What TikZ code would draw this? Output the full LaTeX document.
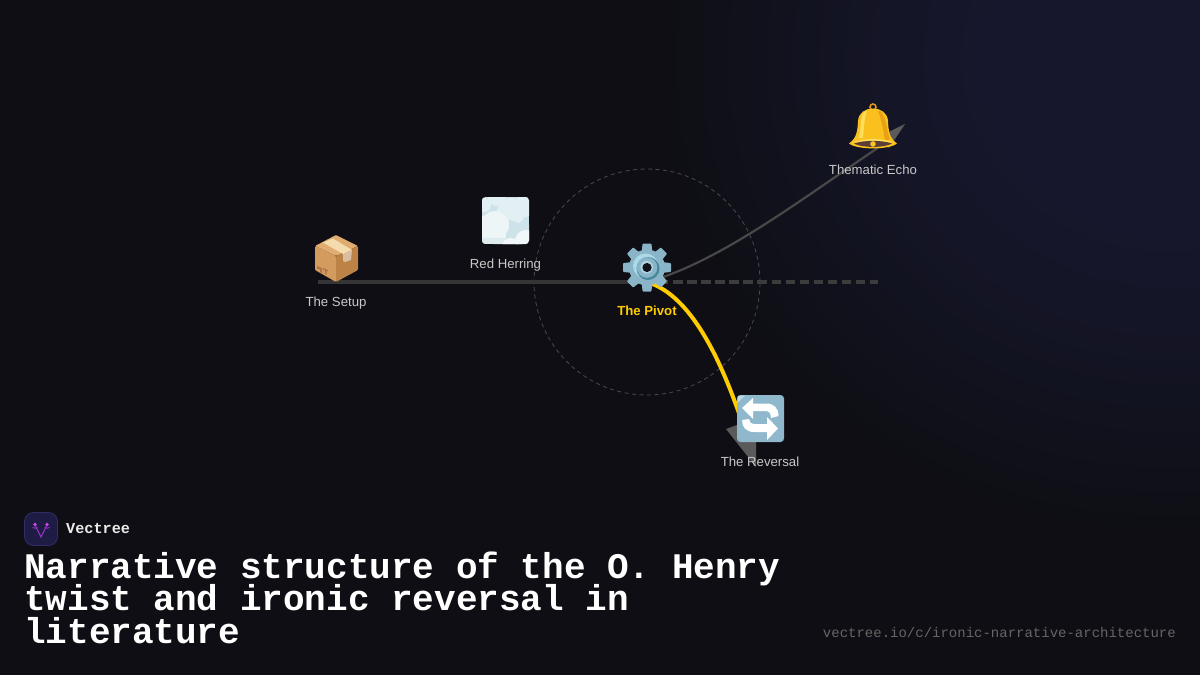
\documentclass[tikz,border=0pt]{standalone}
\usepackage{fontspec}
\setmainfont{Liberation Sans}
\setmonofont{Liberation Mono}
\usetikzlibrary{calc}
\definecolor{bgbase}{HTML}{0E0E14}
\definecolor{bgglow}{HTML}{16172C}
\definecolor{linegrey}{HTML}{3C3C3C}
\definecolor{curvegrey}{HTML}{484848}
\definecolor{headgrey}{HTML}{5A5A5A}
\definecolor{pivotgold}{HTML}{FFCC00}
\definecolor{labelgrey}{HTML}{C8C8C8}
\definecolor{ringgrey}{HTML}{4A4A4E}
\definecolor{urlgrey}{HTML}{666666}
\definecolor{gearbody}{HTML}{8AB5C8}
\tikzset{
  nodelabel/.style={font=\fontsize{13.2}{16}\selectfont, text=labelgrey, inner sep=0pt, anchor=center},
  pivotlabel/.style={font=\fontsize{13.2}{16}\selectfont\bfseries, text=pivotgold, inner sep=0pt, anchor=center},
  spine/.style={draw=linegrey, line width=3.6pt},
  spinedash/.style={spine, dash pattern=on 9.5pt off 4.57pt, dash phase=10.3pt},
  echoline/.style={draw=curvegrey, line width=2.2pt},
  twistline/.style={draw=pivotgold, line width=4pt},
  ring/.style={draw=ringgrey, line width=.8pt, dash pattern=on 4pt off 3.5pt},
  arrowfill/.style={fill=headgrey, draw=none},
  titletext/.style={font=\fontsize{36}{32.4}\selectfont\ttfamily\bfseries, text=white, inner sep=0pt, anchor=base west},
}
\begin{document}
\begin{tikzpicture}[x=1pt,y=-1pt]
\useasboundingbox (0,0) rectangle (1200,675);
\fill[bgbase] (0,0) rectangle (1200,675);
\begin{scope}
\clip (0,0) rectangle (1200,675);
\foreach \i in {40,39,...,1} {
  \pgfmathsetmacro\mixv{min(100,125*(1-(\i/40)^1.6))}
  \fill[bgglow!\mixv!bgbase] (1170,60) ellipse ({\i*13} and {\i*12});
}
\end{scope}
% anchors
\coordinate (start) at (317.5,282);
\coordinate (dashend) at (878,282);
\coordinate (pivotc) at (647,282);
\coordinate (echotip) at (905,124);
\coordinate (revtip) at (756,467);
% ring
\node[ring, circle, minimum size=226pt, inner sep=0pt] (pivotring) at (pivotc) {};
% connectors
\draw[spinedash] (start) -- (dashend);
\draw[draw=linegrey!88!black, line width=3.2pt] (start) -- (pivotc);
\draw[echoline] (pivotc) .. controls (720,262) and (800,200) .. (885,143);
\draw[twistline] (650,283) .. controls (690,297) and (720,355) .. (744,428);
\fill[arrowfill] (echotip) -- (878,137) -- (889,148) -- cycle;
\fill[arrowfill] (revtip) -- (726,429) -- (756,418) -- cycle;
% the setup: box
\begin{scope}[shift={(336,259)}]
\fill[rounded corners=1pt,fill={rgb,255:red,224;green,172;blue,112}] (0,-24) -- (22,-13) -- (0,-3) -- (-21,-13) -- cycle;
\fill[rounded corners=1pt,fill={rgb,255:red,212;green,155;blue,95}] (-21,-13) -- (0,-3) -- (0,23) -- (-21,11) -- cycle;
\fill[rounded corners=1pt,fill={rgb,255:red,188;green,130;blue,70}] (22,-13) -- (0,-3) -- (0,23) -- (22,11) -- cycle;
\fill[fill={rgb,255:red,245;green,220;blue,175}] (-13,-16.5) -- (-3,-20.5) -- (16,-9) -- (7,-5) -- cycle;
\fill[fill={rgb,255:red,218;green,190;blue,160}] (7,-5) -- (16,-9) -- (15,1) -- (9,3) -- (7,2) -- cycle;
\fill[fill={rgb,255:red,170;green,120;blue,72}] (-19,7) -- (-14,9) -- (-14,14) -- (-16,13) -- (-16,10.5) -- (-19,9.5) -- cycle;
\fill[fill={rgb,255:red,170;green,120;blue,72}] (-13,9) -- (-8,11) -- (-8,12.5) -- (-9.5,12) -- (-9.5,15.5) -- (-11,15) -- (-11,11.5) -- (-13,10.7) -- cycle;
\end{scope}
\node[nodelabel] (setup) at (336,303) {The Setup};
% red herring: clouds
\begin{scope}
\clip[rounded corners=3.5pt] (482,197) rectangle (529,244);
\fill[fill={rgb,255:red,206;green,227;blue,233}] (482,197) rectangle (529,244);
\fill[fill={rgb,255:red,226;green,239;blue,243}] (511,212) circle (14);
\fill[fill={rgb,255:red,226;green,239;blue,243}] (525,206) circle (11);
\fill[fill={rgb,255:red,226;green,239;blue,243}] (497,197) circle (9);
\fill[fill={rgb,255:red,226;green,239;blue,243}] (484,205) circle (7);
\fill[fill={rgb,255:red,206;green,227;blue,233}] (508,236) circle (16);
\fill[fill={rgb,255:red,206;green,227;blue,233}] (524,232) circle (10);
\fill[fill={rgb,255:red,238;green,245;blue,247}] (495,225) circle (14);
\fill[fill={rgb,255:red,238;green,245;blue,247}] (480,228) circle (13);
\fill[fill={rgb,255:red,238;green,245;blue,247}] (482,232) rectangle (506,238);
\fill[fill={rgb,255:red,222;green,236;blue,240}] (482,238) rectangle (506,244);
\fill[fill={rgb,255:red,242;green,248;blue,249}] (526,241) circle (11);
\fill[fill={rgb,255:red,242;green,248;blue,249}] (511,247) circle (9);
\end{scope}
\node[nodelabel] (herring) at (505.5,264.7) {Red Herring};
% the pivot: gear
\begin{scope}[shift={(647,267.5)}]
\foreach \a in {0,45,...,315} {
  \fill[rotate=\a, fill=gearbody, rounded corners=.8pt] (-4.4,-24) -- (4.4,-24) -- (5.8,-12) -- (-5.8,-12) -- cycle;
}
\fill[fill=gearbody] (0,0) circle (18);
\fill[fill={rgb,255:red,170;green,218;blue,232}] (-1.5,-1.5) circle (12.5);
\fill[fill={rgb,255:red,72;green,135;blue,155}] (1,1) circle (11.5);
\fill[fill=gearbody] (0,0) circle (10.3);
\fill[fill={rgb,255:red,176;green,212;blue,224}] (-.3,-.3) circle (6.3);
\fill[fill={rgb,255:red,16;green,20;blue,26}] (0,0) circle (4.6);
\end{scope}
\node[pivotlabel] (pivot) at (647,311) {The Pivot};
% the reversal
\fill[rounded corners=3.5pt, fill={rgb,255:red,143;green,184;blue,204}] (737,395) rectangle (784,442);
\fill[fill={rgb,255:red,185;green,216;blue,230}] (737.5,403) -- (737.5,398) arc[start angle=180,end angle=270,radius=2.5] -- (745,395.5) -- cycle;
\fill[white] (742,408) -- (753,398) -- (753,403.5) -- (766,403.5) .. controls (774,403.5) and (778.5,408) .. (778.5,416) -- (771,418) .. controls (771,413) and (769,411) .. (765,411) -- (753,411) -- (753,419) -- cycle;
\fill[white] (778,428.5) -- (767,417) -- (767,424) -- (755,424) .. controls (751,424) and (749,422) .. (749,419) -- (742,420) .. controls (742,427) and (746,432) .. (754,432) -- (767,432) -- (767,440) -- cycle;
\node[nodelabel] (reversal) at (760,462) {The Reversal};
% thematic echo: bell
\begin{scope}[shift={(873,127)}]
\draw[fill=none, draw={rgb,255:red,220;green,150;blue,25}, line width=1.6pt] (0,-20) circle (3);
\fill[fill={rgb,255:red,250;green,192;blue,30}] (-24,16.5) .. controls (-16,11) and (-15.5,3) .. (-15,-6) .. controls (-14.5,-14) and (-8,-18.5) .. (0,-18.5) .. controls (8,-18.5) and (14.5,-14) .. (15,-6) .. controls (15.5,3) and (16,11) .. (24,16.5) .. controls (16,23) and (-16,23) .. (-24,16.5) -- cycle;
\fill[fill={rgb,255:red,255;green,222;blue,90}] (-9,-15) .. controls (-13,-10) and (-11.5,1) .. (-14.5,11) -- (-10,11) .. controls (-9,2) and (-9,-8) .. (-6,-16) -- cycle;
\fill[fill={rgb,255:red,232;green,160;blue,20}] (8,-15.5) .. controls (13,-10) and (13,1) .. (17,12.5) -- (12,13) .. controls (10,3) and (9,-6) .. (5,-16) -- cycle;
\fill[fill={rgb,255:red,255;green,224;blue,100}] (-21,15.5) .. controls (-10,11) and (10,11) .. (21,15.5) .. controls (10,13.5) and (-10,13.5) .. (-21,15.5) -- cycle;
\fill[fill={rgb,255:red,92;green,62;blue,55}] (-19,16.5) .. controls (-8,13) and (8,13) .. (19,16.5) .. controls (12,21) and (-12,21) .. (-19,16.5) -- cycle;
\fill[fill={rgb,255:red,250;green,195;blue,40}] (0,17) circle (2.8);
\end{scope}
\node[nodelabel] (echo) at (873,170) {Thematic Echo};
% brand
\node[draw={rgb,255:red,50;green,46;blue,100}, line width=.8pt, fill={rgb,255:red,30;green,27;blue,68}, rounded corners=9pt, minimum size=33pt, inner sep=0pt] (logo) at (41,529) {};
\begin{scope}[shift={(41,529)}]
\draw[draw={rgb,255:red,160;green,50;blue,200}, line width=1.1pt] (-6,-4) -- (-3,2) -- (0,8) -- (3,2) -- (6,-4);
\draw[draw={rgb,255:red,160;green,50;blue,200}, line width=.9pt] (-8.5,-1.5) -- (-6,-.8) -- (-3.5,-1.5) (8.5,-1.5) -- (6,-.8) -- (3.5,-1.5);
\fill[fill={rgb,255:red,195;green,75;blue,225}] (-6,-4.5) circle (1.8) (6,-4.5) circle (1.8);
\end{scope}
\node[font=\fontsize{15.2}{18}\selectfont\ttfamily\bfseries, text={rgb,255:red,235;green,235;blue,235}, inner sep=0pt, anchor=base west] (brand) at (66,533) {Vectree};
% title
\node[titletext] (title1) at (24,578.5) {Narrative structure of the O. Henry};
\node[titletext] (title2) at (24,610.5) {twist and ironic reversal in};
\node[titletext] (title3) at (24,643.5) {literature};
\node[font=\fontsize{14}{16}\selectfont\ttfamily, text=urlgrey, inner sep=0pt, anchor=base east] (url) at (1176,637) {vectree.io/c/ironic-narrative-architecture};
\end{tikzpicture}
\end{document}
